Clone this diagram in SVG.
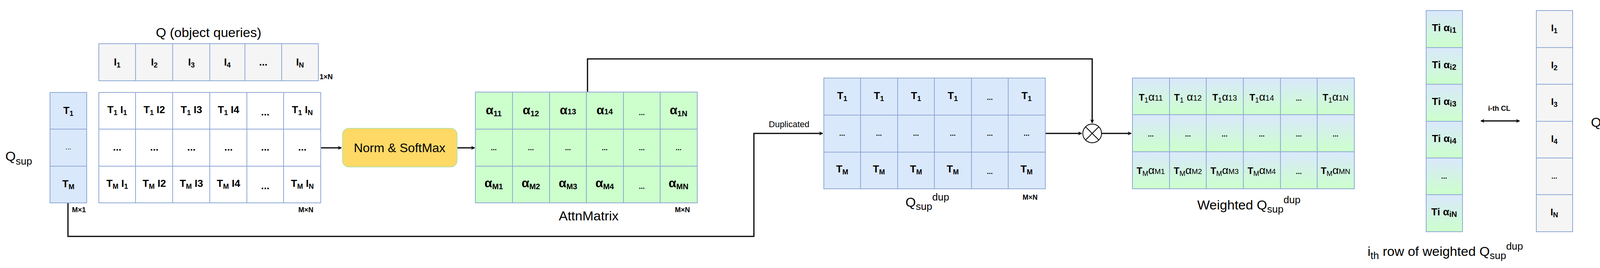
<svg xmlns="http://www.w3.org/2000/svg" width="4123" height="687" viewBox="0 0 4123 687">
<style>
text{font-family:"Liberation Sans",Arial,sans-serif;fill:#000;text-anchor:middle}
.g{fill:#f5f5f5;stroke:#8ea9d6;stroke-width:2}
.w{fill:#fff;stroke:#8ea9d6;stroke-width:2}
.b{fill:#dae8fc;stroke:#8ea9d6;stroke-width:2}
.gr{fill:#ccffcc;stroke:#8ea9d6;stroke-width:2}
.gd{fill:url(#grad);stroke:#8ea9d6;stroke-width:2}
.c{font-size:26px;font-weight:bold}
.a{font-size:32px;font-weight:bold}
.r{font-size:22px}
.s{font-size:18px}
.lbl{font-size:34px}
.sm{font-size:18px;font-weight:bold}
.ln{fill:none;stroke:#000;stroke-width:3}
</style>
<defs>
<linearGradient id="grad" x1="0" y1="0" x2="0" y2="1"><stop offset="0" stop-color="#dae8fc"/><stop offset="1" stop-color="#ccffcc"/></linearGradient>
<marker id="ar" markerWidth="10" markerHeight="10" refX="9" refY="5" orient="auto-start-reverse" markerUnits="userSpaceOnUse" viewBox="0 0 10 10"><path d="M0,0 L10,5 L0,10 L3,5 Z" fill="#000"/></marker>
</defs>
<g id="connectors">
<line class="ln" x1="821" y1="379" x2="874" y2="379" marker-end="url(#ar)"/>
<line class="ln" x1="1170" y1="379" x2="1215" y2="379" marker-end="url(#ar)"/>
<polyline class="ln" points="1504,236 1504,151 2796,151 2796,315" marker-end="url(#ar)"/>
<polyline class="ln" points="174,520 174,606 1930,606 1930,342 2106,342" marker-end="url(#ar)"/>
<line class="ln" x1="2676" y1="342" x2="2769" y2="342" marker-end="url(#ar)"/>
<line class="ln" x1="2820" y1="342" x2="2896" y2="342" marker-end="url(#ar)"/>
<line class="ln" x1="3791" y1="310" x2="3890" y2="310" marker-start="url(#ar)" marker-end="url(#ar)"/>
<text x="2020" y="326" class="r">Duplicated</text>
<text x="3838" y="284" class="sm" font-size="20">i-th CL</text>
</g>
<g id="multiply">
<circle cx="2796" cy="342" r="24" fill="#fff" stroke="#000" stroke-width="2"/>
<path d="M2779,325 L2813,359 M2813,325 L2779,359" stroke="#000" stroke-width="2"/>
</g>
<g id="q-object-queries">
<text x="534" y="95" class="lbl">Q (object queries)</text>
<rect class="g" x="253" y="112" width="94" height="95"/><rect class="g" x="347" y="112" width="95" height="95"/><rect class="g" x="442" y="112" width="95" height="95"/><rect class="g" x="537" y="112" width="90" height="95"/><rect class="g" x="627" y="112" width="94" height="95"/><rect class="g" x="721" y="112" width="94" height="95"/>
<g class="c"><text x="300" y="168">I<tspan class="s" dy="5">1</tspan></text><text x="395" y="168">I<tspan class="s" dy="5">2</tspan></text><text x="490" y="168">I<tspan class="s" dy="5">3</tspan></text><text x="582" y="168">I<tspan class="s" dy="5">4</tspan></text><text x="674" y="168">...</text><text x="768" y="168">I<tspan class="s" dy="5">N</tspan></text></g>
<text x="835" y="203" class="sm">1×N</text>
</g>
<g id="q-sup">
<text x="48" y="412" class="lbl" font-size="38">Q<tspan font-size="26" dy="10">sup</tspan></text>
<rect class="b" x="128" y="237" width="94" height="94"/><rect class="b" x="128" y="331" width="94" height="95"/><rect class="b" x="128" y="426" width="94" height="94"/>
<text x="175" y="292" class="c">T<tspan class="s" dy="5">1</tspan></text>
<text x="175" y="383" class="s">...</text>
<text x="175" y="480" class="c">T<tspan class="s" dy="5">M</tspan></text>
<text x="202" y="544" class="sm">M×1</text>
</g>
<g id="similarity-matrix">
<rect class="w" x="253" y="237" width="94" height="94"/><rect class="w" x="347" y="237" width="95" height="94"/><rect class="w" x="442" y="237" width="95" height="94"/><rect class="w" x="537" y="237" width="95" height="94"/><rect class="w" x="632" y="237" width="94" height="94"/><rect class="w" x="726" y="237" width="95" height="94"/>
<rect class="w" x="253" y="331" width="94" height="95"/><rect class="w" x="347" y="331" width="95" height="95"/><rect class="w" x="442" y="331" width="95" height="95"/><rect class="w" x="537" y="331" width="95" height="95"/><rect class="w" x="632" y="331" width="94" height="95"/><rect class="w" x="726" y="331" width="95" height="95"/>
<rect class="w" x="253" y="426" width="94" height="94"/><rect class="w" x="347" y="426" width="95" height="94"/><rect class="w" x="442" y="426" width="95" height="94"/><rect class="w" x="537" y="426" width="95" height="94"/><rect class="w" x="632" y="426" width="94" height="94"/><rect class="w" x="726" y="426" width="95" height="94"/>
<g class="c" font-size="24">
<text x="300" y="290">T<tspan class="s" dy="5">1</tspan><tspan dy="-5"> I</tspan><tspan class="s" dy="5">1</tspan></text>
<text x="395" y="290">T<tspan class="s" dy="5">1</tspan><tspan dy="-5"> I2</tspan></text>
<text x="490" y="290">T<tspan class="s" dy="5">1</tspan><tspan dy="-5"> I3</tspan></text>
<text x="585" y="290">T<tspan class="s" dy="5">1</tspan><tspan dy="-5"> I4</tspan></text>
<text x="679" y="296">...</text>
<text x="774" y="290">T<tspan class="s" dy="5">1</tspan><tspan dy="-5"> I</tspan><tspan class="s" dy="5">N</tspan></text>
<text x="300" y="386">...</text><text x="395" y="386">...</text><text x="490" y="386">...</text><text x="585" y="386">...</text><text x="679" y="386">...</text><text x="774" y="386">...</text>
<text x="300" y="479">T<tspan class="s" dy="5">M</tspan><tspan dy="-5"> I</tspan><tspan class="s" dy="5">1</tspan></text>
<text x="395" y="479">T<tspan class="s" dy="5">M</tspan><tspan dy="-5"> I2</tspan></text>
<text x="490" y="479">T<tspan class="s" dy="5">M</tspan><tspan dy="-5"> I3</tspan></text>
<text x="585" y="479">T<tspan class="s" dy="5">M</tspan><tspan dy="-5"> I4</tspan></text>
<text x="679" y="485">...</text>
<text x="774" y="479">T<tspan class="s" dy="5">M</tspan><tspan dy="-5"> I</tspan><tspan class="s" dy="5">N</tspan></text>
</g>
<text x="783" y="544" class="sm">M×N</text>
</g>
<g id="norm-softmax">
<rect x="877" y="329" width="293" height="99" rx="16" fill="#ffd966" stroke="#b9e0a5" stroke-width="2"/>
<text x="1023" y="390" font-size="32">Norm &amp; SoftMax</text>
</g>
<g id="attn-matrix">
<rect class="gr" x="1217" y="236" width="95" height="95"/><rect class="gr" x="1312" y="236" width="95" height="95"/><rect class="gr" x="1407" y="236" width="94" height="95"/><rect class="gr" x="1501" y="236" width="95" height="95"/><rect class="gr" x="1596" y="236" width="94" height="95"/><rect class="gr" x="1690" y="236" width="95" height="95"/>
<rect class="gr" x="1217" y="331" width="95" height="95"/><rect class="gr" x="1312" y="331" width="95" height="95"/><rect class="gr" x="1407" y="331" width="94" height="95"/><rect class="gr" x="1501" y="331" width="95" height="95"/><rect class="gr" x="1596" y="331" width="94" height="95"/><rect class="gr" x="1690" y="331" width="95" height="95"/>
<rect class="gr" x="1217" y="426" width="95" height="94"/><rect class="gr" x="1312" y="426" width="95" height="94"/><rect class="gr" x="1407" y="426" width="94" height="94"/><rect class="gr" x="1501" y="426" width="95" height="94"/><rect class="gr" x="1596" y="426" width="94" height="94"/><rect class="gr" x="1690" y="426" width="95" height="94"/>
<g class="a">
<text x="1264" y="293">α<tspan font-size="20" dy="5">11</tspan></text>
<text x="1359" y="293">α<tspan font-size="20" dy="5">12</tspan></text>
<text x="1454" y="293">α<tspan font-size="20">13</tspan></text>
<text x="1548" y="293">α<tspan font-size="20">14</tspan></text>
<text x="1643" y="295" class="s">...</text>
<text x="1737" y="293">α<tspan font-size="20" dy="5">1N</tspan></text>
<text x="1264" y="385" class="s">...</text><text x="1359" y="385" class="s">...</text><text x="1454" y="385" class="s">...</text><text x="1548" y="385" class="s">...</text><text x="1643" y="385" class="s">...</text><text x="1737" y="385" class="s">...</text>
<text x="1264" y="480">α<tspan font-size="20" dy="5">M1</tspan></text>
<text x="1359" y="480">α<tspan font-size="20" dy="5">M2</tspan></text>
<text x="1454" y="480">α<tspan font-size="20" dy="5">M3</tspan></text>
<text x="1548" y="480">α<tspan font-size="20" dy="5">M4</tspan></text>
<text x="1643" y="484" class="s">...</text>
<text x="1737" y="480">α<tspan font-size="20" dy="5">MN</tspan></text>
</g>
<text x="1507" y="565" class="lbl">AttnMatrix</text>
<text x="1747" y="544" class="sm">M×N</text>
</g>
<g id="q-sup-dup">
<rect class="b" x="2109" y="200" width="94" height="95"/><rect class="b" x="2203" y="200" width="95" height="95"/><rect class="b" x="2298" y="200" width="94" height="95"/><rect class="b" x="2392" y="200" width="95" height="95"/><rect class="b" x="2487" y="200" width="94" height="95"/><rect class="b" x="2581" y="200" width="95" height="95"/>
<rect class="b" x="2109" y="295" width="94" height="95"/><rect class="b" x="2203" y="295" width="95" height="95"/><rect class="b" x="2298" y="295" width="94" height="95"/><rect class="b" x="2392" y="295" width="95" height="95"/><rect class="b" x="2487" y="295" width="94" height="95"/><rect class="b" x="2581" y="295" width="95" height="95"/>
<rect class="b" x="2109" y="390" width="94" height="94"/><rect class="b" x="2203" y="390" width="95" height="94"/><rect class="b" x="2298" y="390" width="94" height="94"/><rect class="b" x="2392" y="390" width="95" height="94"/><rect class="b" x="2487" y="390" width="94" height="94"/><rect class="b" x="2581" y="390" width="95" height="94"/>
<g class="c" font-size="24">
<text x="2156" y="254">T<tspan class="s" dy="5">1</tspan></text><text x="2250" y="254">T<tspan class="s" dy="5">1</tspan></text><text x="2345" y="254">T<tspan class="s" dy="5">1</tspan></text><text x="2439" y="254">T<tspan class="s" dy="5">1</tspan></text><text x="2534" y="256" class="s">...</text><text x="2628" y="254">T<tspan class="s" dy="5">1</tspan></text>
<text x="2156" y="348" class="s">...</text><text x="2250" y="348" class="s">...</text><text x="2345" y="348" class="s">...</text><text x="2439" y="348" class="s">...</text><text x="2534" y="348" class="s">...</text><text x="2628" y="348" class="s">...</text>
<text x="2156" y="442">T<tspan class="s" dy="5">M</tspan></text><text x="2250" y="442">T<tspan class="s" dy="5">M</tspan></text><text x="2345" y="442">T<tspan class="s" dy="5">M</tspan></text><text x="2439" y="442">T<tspan class="s" dy="5">M</tspan></text><text x="2534" y="446" class="s">...</text><text x="2628" y="442">T<tspan class="s" dy="5">M</tspan></text>
</g>
<text x="2374" y="530" class="lbl">Q<tspan font-size="26" dy="8">sup</tspan><tspan font-size="26" dy="-24">dup</tspan></text>
<text x="2637" y="512" class="sm">M×N</text>
</g>
<g id="weighted-q-sup-dup">
<rect class="gd" x="2899" y="200" width="95" height="94"/><rect class="gd" x="2994" y="200" width="94" height="94"/><rect class="gd" x="3088" y="200" width="95" height="94"/><rect class="gd" x="3183" y="200" width="95" height="94"/><rect class="gd" x="3278" y="200" width="94" height="94"/><rect class="gd" x="3372" y="200" width="95" height="94"/>
<rect class="gd" x="2899" y="294" width="95" height="95"/><rect class="gd" x="2994" y="294" width="94" height="95"/><rect class="gd" x="3088" y="294" width="95" height="95"/><rect class="gd" x="3183" y="294" width="95" height="95"/><rect class="gd" x="3278" y="294" width="94" height="95"/><rect class="gd" x="3372" y="294" width="95" height="95"/>
<rect class="gd" x="2899" y="389" width="95" height="95"/><rect class="gd" x="2994" y="389" width="94" height="95"/><rect class="gd" x="3088" y="389" width="95" height="95"/><rect class="gd" x="3183" y="389" width="95" height="95"/><rect class="gd" x="3278" y="389" width="94" height="95"/><rect class="gd" x="3372" y="389" width="95" height="95"/>
<g font-size="28">
<text x="2946" y="258"><tspan font-weight="bold" font-size="24">T</tspan><tspan class="s" dy="5">1</tspan><tspan dy="-5">α</tspan><tspan font-size="20">11</tspan></text>
<text x="3041" y="258"><tspan font-weight="bold" font-size="24">T</tspan><tspan class="s" dy="5">1</tspan><tspan dy="-5"> α</tspan><tspan font-size="20">12</tspan></text>
<text x="3135" y="258"><tspan font-weight="bold" font-size="24">T</tspan><tspan class="s" dy="5">1</tspan><tspan dy="-5">α</tspan><tspan font-size="20">13</tspan></text>
<text x="3230" y="258"><tspan font-weight="bold" font-size="24">T</tspan><tspan class="s" dy="5">1</tspan><tspan dy="-5">α</tspan><tspan font-size="20">14</tspan></text>
<text x="3325" y="258" class="s" font-weight="bold">...</text>
<text x="3419" y="258"><tspan font-weight="bold" font-size="24">T</tspan><tspan class="s" dy="5">1</tspan><tspan dy="-5">α</tspan><tspan font-size="20">1N</tspan></text>
<text x="2946" y="350" class="s" font-weight="bold">...</text><text x="3041" y="350" class="s" font-weight="bold">...</text><text x="3135" y="350" class="s" font-weight="bold">...</text><text x="3230" y="350" class="s" font-weight="bold">...</text><text x="3325" y="350" class="s" font-weight="bold">...</text><text x="3419" y="350" class="s" font-weight="bold">...</text>
<text x="2946" y="446"><tspan font-weight="bold" font-size="24">T</tspan><tspan class="s" dy="5">M</tspan><tspan dy="-5">α</tspan><tspan font-size="19">M1</tspan></text>
<text x="3041" y="446"><tspan font-weight="bold" font-size="24">T</tspan><tspan class="s" dy="5">M</tspan><tspan dy="-5">α</tspan><tspan font-size="19">M2</tspan></text>
<text x="3135" y="446"><tspan font-weight="bold" font-size="24">T</tspan><tspan class="s" dy="5">M</tspan><tspan dy="-5">α</tspan><tspan font-size="19">M3</tspan></text>
<text x="3230" y="446"><tspan font-weight="bold" font-size="24">T</tspan><tspan class="s" dy="5">M</tspan><tspan dy="-5">α</tspan><tspan font-size="19">M4</tspan></text>
<text x="3325" y="446" class="s" font-weight="bold">...</text>
<text x="3419" y="446"><tspan font-weight="bold" font-size="24">T</tspan><tspan class="s" dy="5">M</tspan><tspan dy="-5">α</tspan><tspan font-size="19">MN</tspan></text>
</g>
<text x="3197" y="537" class="lbl">Weighted Q<tspan font-size="26" dy="8">sup</tspan><tspan font-size="26" dy="-24">dup</tspan></text>
</g>
<g id="ith-row">
<rect class="gd" x="3651" y="27" width="93" height="95"/><rect class="gd" x="3651" y="122" width="93" height="94"/><rect class="gd" x="3651" y="216" width="93" height="95"/><rect class="gd" x="3651" y="311" width="93" height="94"/><rect class="gd" x="3651" y="405" width="93" height="94"/><rect class="gd" x="3651" y="499" width="93" height="95"/>
<g class="c" font-size="22">
<text x="3697" y="80">Ti α<tspan font-size="20" dy="4">i1</tspan></text>
<text x="3697" y="175">Ti α<tspan font-size="20" dy="4">i2</tspan></text>
<text x="3697" y="269">Ti α<tspan font-size="20" dy="4">i3</tspan></text>
<text x="3697" y="364">Ti α<tspan font-size="20" dy="4">i4</tspan></text>
<text x="3697" y="458" class="s">...</text>
<text x="3697" y="552">Ti α<tspan font-size="20" dy="4">iN</tspan></text>
</g>
<text x="3700" y="656" class="lbl">i<tspan font-size="26" dy="8">th</tspan><tspan dy="-8"> row of weighted Q</tspan><tspan font-size="26" dy="8">sup</tspan><tspan font-size="26" dy="-24">dup</tspan></text>
</g>
<g id="q-column">
<rect class="g" x="3933" y="27" width="93" height="95"/><rect class="g" x="3933" y="122" width="93" height="94"/><rect class="g" x="3933" y="216" width="93" height="95"/><rect class="g" x="3933" y="311" width="93" height="94"/><rect class="g" x="3933" y="405" width="93" height="94"/><rect class="g" x="3933" y="499" width="93" height="95"/>
<g font-size="24" font-weight="bold">
<text x="3979" y="80">I<tspan class="s" dy="5">1</tspan></text>
<text x="3979" y="175">I<tspan class="s" dy="5">2</tspan></text>
<text x="3979" y="269">I<tspan class="s" dy="5">3</tspan></text>
<text x="3979" y="364">I<tspan class="s" dy="5">4</tspan></text>
<text x="3979" y="458" class="s">...</text>
<text x="3979" y="552">I<tspan class="s" dy="5">N</tspan></text>
</g>
<text x="4086" y="325" class="lbl">Q</text>
</g>
</svg>
